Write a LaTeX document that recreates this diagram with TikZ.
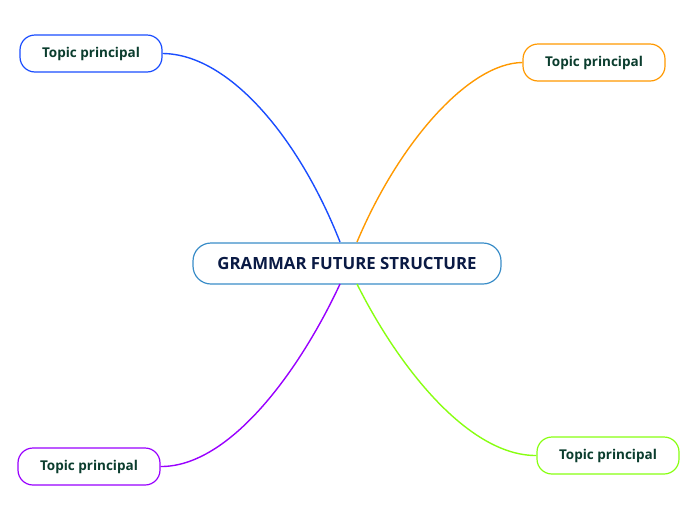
\documentclass[tikz,border=0pt]{standalone}
\usepackage{fontspec}
\setmainfont{Open Sans}
\begin{document}
\begin{tikzpicture}[x=1pt,y=-1pt,
  topic/.style={draw,line width=1.2pt,rounded corners=15pt,minimum width=142pt,minimum height=37pt,fill=white,text=topictext,font=\fontsize{13.5}{15}\selectfont\bfseries},
  link/.style={line width=1.4pt}]
\definecolor{topictext}{HTML}{0B3D2E}
\definecolor{cblue}{HTML}{1A4DFF}
\definecolor{corange}{HTML}{FF9900}
\definecolor{cpurple}{HTML}{9900FF}
\definecolor{cgreen}{HTML}{88FF11}
\definecolor{cmain}{HTML}{3A8DC8}
\definecolor{ctext}{HTML}{0A1A44}
\useasboundingbox (0,0) rectangle (696,520);
\node[topic,draw=cmain,minimum width=308pt,minimum height=41pt,rounded corners=18pt,text=ctext,font=\fontsize{16.8}{18}\selectfont\bfseries] (c) at (347,263.5) {GRAMMAR FUTURE STRUCTURE};
\node[topic,draw=cblue] (tl) at (91,53.5) {Topic principal};
\node[topic,draw=corange] (tr) at (594,62.5) {Topic principal};
\node[topic,draw=cpurple] (bl) at (89,466.5) {Topic principal};
\node[topic,draw=cgreen] (br) at (608,455.5) {Topic principal};
\coordinate (c1) at (340,242);
\coordinate (c2) at (357,242);
\coordinate (c3) at (340,284);
\coordinate (c4) at (357,284);
\draw[link,cblue] (c1) .. controls (300,140) and (230,54) .. (tl.east);
\draw[link,corange] (c2) .. controls (400,140) and (470,63) .. (tr.west);
\draw[link,cpurple] (c3) .. controls (300,370) and (230,467) .. (bl.east);
\draw[link,cgreen] (c4) .. controls (400,370) and (470,456) .. (br.west);
\end{tikzpicture}
\end{document}
